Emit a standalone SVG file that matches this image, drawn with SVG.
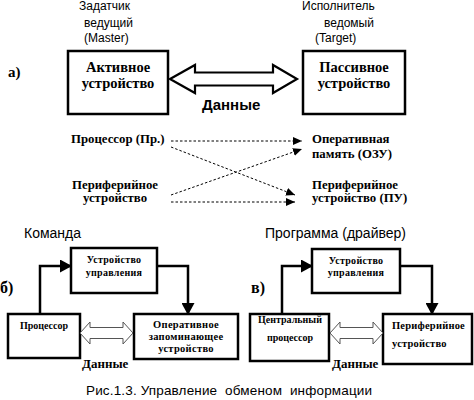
<svg xmlns="http://www.w3.org/2000/svg" width="474" height="400" viewBox="0 0 474 400">
<style>
.sans{fill:#000}
.serif{font-weight:bold;fill:#000}
.box{fill:#fff;stroke:#000;stroke-width:2.5}
.thick{fill:none;stroke:#000;stroke-width:2.5}
.dot{fill:none;stroke:#000;stroke-width:1;stroke-dasharray:2.5,2}
.hollow{fill:#fff;stroke:#000;stroke-width:2.2;stroke-linejoin:miter}
.hollow2{fill:#fff;stroke:#555;stroke-width:1}
</style>
<defs>
<marker id="tri" markerWidth="10" markerHeight="8" refX="9" refY="4" orient="auto" markerUnits="userSpaceOnUse">
<path d="M0,0 L9,4 L0,8 Z" fill="#000"/>
</marker>
<marker id="big" markerWidth="12" markerHeight="13" refX="11" refY="6.5" orient="auto" markerUnits="userSpaceOnUse">
<path d="M0,0 L12,6.5 L0,13 Z" fill="#000"/>
</marker>
</defs>
<rect width="474" height="400" fill="#fff"/>

<g id="sans-labels" font-family="Liberation Sans, Arial, sans-serif">
<text class="sans" font-size="12" x="79" y="10">Задатчик</text>
<text class="sans" font-size="12" x="84" y="27">ведущий</text>
<text class="sans" font-size="12" x="84" y="42">(Master)</text>
<text class="sans" font-size="12" x="302" y="10">Исполнитель</text>
<text class="sans" font-size="12" x="324" y="27">ведомый</text>
<text class="sans" font-size="12" x="315" y="42">(Target)</text>
<text class="sans" font-size="14" x="24" y="238">Команда</text>
<text class="sans" font-size="14" x="265" y="238">Программа (драйвер)</text>
<text class="sans" font-size="13.5" x="86" y="395" textLength="286" xml:space="preserve">Рис.1.3. Управление  обменом  информации</text>
</g>

<g id="serif-labels" font-family="Liberation Serif, Times New Roman, serif">
<text class="serif" font-size="15" x="8" y="77">а)</text>
<text class="serif" font-size="16" x="0" y="293">б)</text>
<text class="serif" font-size="16" x="251" y="293">в)</text>
<text class="serif" font-size="13" x="82" y="368">Данные</text>
<text class="serif" font-size="13" x="332" y="368">Данные</text>
</g>

<g id="active" font-family="Liberation Serif, Times New Roman, serif">
<rect class="box" x="68" y="51" width="100" height="63"/>
<text class="serif" font-size="14.5" x="118" y="72" text-anchor="middle">Активное</text>
<text class="serif" font-size="14.5" x="118" y="88" text-anchor="middle">устройство</text>
</g>
<g id="passive" font-family="Liberation Serif, Times New Roman, serif">
<rect class="box" x="303" y="51" width="102" height="63"/>
<text class="serif" font-size="14.5" x="354" y="72" text-anchor="middle">Пассивное</text>
<text class="serif" font-size="14.5" x="354" y="88" text-anchor="middle">устройство</text>
</g>

<g id="proc-label" font-family="Liberation Serif, Times New Roman, serif"><text class="serif" font-size="12.8" x="71" y="143">Процессор (Пр.)</text></g>
<g id="periph-left" font-family="Liberation Serif, Times New Roman, serif"><text class="serif" font-size="12.8" x="115" y="189" text-anchor="middle">Периферийное</text>
<text class="serif" font-size="12.8" x="115" y="202" text-anchor="middle">устройство</text></g>
<g id="ram-label" font-family="Liberation Serif, Times New Roman, serif"><text class="serif" font-size="12.8" x="312" y="143">Оперативная</text>
<text class="serif" font-size="12.8" x="312" y="158">память (ОЗУ)</text></g>
<g id="periph-right" font-family="Liberation Serif, Times New Roman, serif"><text class="serif" font-size="12.8" x="312" y="189">Периферийное</text>
<text class="serif" font-size="12.8" x="312" y="202">устройство (ПУ)</text></g>

<g id="cu-b" font-family="Liberation Serif, Times New Roman, serif">
<rect class="box" x="71" y="248" width="86" height="45"/>
<text class="serif" font-size="10" x="114" y="263" text-anchor="middle" letter-spacing="0.3">Устройство</text>
<text class="serif" font-size="10" x="114" y="276" text-anchor="middle" letter-spacing="0.3">управления</text>
</g>
<g id="cpu-b" font-family="Liberation Serif, Times New Roman, serif">
<rect class="box" x="8" y="314" width="72" height="44"/>
<text class="serif" font-size="10" x="44" y="329" text-anchor="middle">Процессор</text>
</g>
<g id="ram-b" font-family="Liberation Serif, Times New Roman, serif">
<rect class="box" x="134" y="314" width="104" height="45"/>
<text class="serif" font-size="10.5" x="186" y="328" text-anchor="middle" letter-spacing="0.3">Оперативное</text>
<text class="serif" font-size="10.5" x="186" y="340" text-anchor="middle" letter-spacing="0.3">запоминающее</text>
<text class="serif" font-size="10.5" x="186" y="352" text-anchor="middle" letter-spacing="0.3">устройство</text>
</g>

<g id="cu-c" font-family="Liberation Serif, Times New Roman, serif">
<rect class="box" x="312" y="249" width="88" height="44"/>
<text class="serif" font-size="10" x="356" y="264" text-anchor="middle" letter-spacing="0.3">Устройство</text>
<text class="serif" font-size="10" x="356" y="276" text-anchor="middle" letter-spacing="0.3">управления</text>
</g>
<g id="cpu-c" font-family="Liberation Serif, Times New Roman, serif">
<rect class="box" x="250" y="314" width="79" height="47"/>
<text class="serif" font-size="10" x="290" y="323" text-anchor="middle">Центральный</text>
<text class="serif" font-size="10" x="290" y="341" text-anchor="middle">процессор</text>
</g>
<g id="pu-c" font-family="Liberation Serif, Times New Roman, serif">
<rect class="box" x="383" y="314" width="89" height="50"/>
<text class="serif" font-size="10.5" x="392" y="329" letter-spacing="0.2">Периферийное</text>
<text class="serif" font-size="10.5" x="392" y="347" letter-spacing="0.2">устройство</text>
</g>

<g id="connectors">
<path class="hollow" d="M170,79 L195,65 L195,72.5 L273,72.5 L273,65 L297,79 L273,93 L273,85.5 L195,85.5 L195,93 Z"/>
<text font-family="Liberation Sans, Arial, sans-serif" font-size="15" font-weight="bold" x="202" y="110">Данные</text>
<line class="dot" x1="171" y1="141" x2="302" y2="141" marker-end="url(#tri)"/>
<line class="dot" x1="171" y1="147" x2="295" y2="195" marker-end="url(#tri)"/>
<line class="dot" x1="171" y1="195" x2="302" y2="149" marker-end="url(#tri)"/>
<line class="dot" x1="171" y1="202" x2="295" y2="202" marker-end="url(#tri)"/>
<polyline class="thick" points="40,314 40,266 71,266" marker-end="url(#big)"/>
<polyline class="thick" points="157,266 188,266 188,314" marker-end="url(#big)"/>
<path class="hollow2" d="M80,333 L90,322 L90,327.5 L123,327.5 L123,322 L133,333 L123,344 L123,338.5 L90,338.5 L90,344 Z"/>
<polyline class="thick" points="282,314 282,266 312,266" marker-end="url(#big)"/>
<polyline class="thick" points="400,266 432,266 432,314" marker-end="url(#big)"/>
<path class="hollow2" d="M330,333 L340,322 L340,327.5 L373,327.5 L373,322 L383,333 L373,344 L373,338.5 L340,338.5 L340,344 Z"/>
</g>
</svg>
